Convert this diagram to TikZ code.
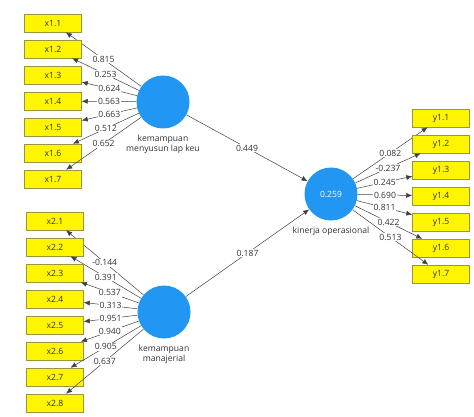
\documentclass[tikz,border=0pt]{standalone}
\usepackage{fontspec}
\setmainfont{Open Sans}
\usepackage{xcolor}
\usetikzlibrary{arrows.meta}
\usetikzlibrary{positioning}
\definecolor{lvblue}{RGB}{33,150,243}
\definecolor{mvyellow}{RGB}{255,245,0}
\definecolor{mvedge}{RGB}{150,150,60}

\begin{document}
\begin{tikzpicture}[
				x=1pt, y=-1pt,
				line width=0.5pt,
				font=\fontsize{8.6}{10}\selectfont,
				indicator/.style={draw=mvedge, fill=mvyellow, minimum width=57pt, minimum height=18pt, inner sep=0pt, text=black!80},
				construct/.style={circle, fill=lvblue, minimum size=53pt, inner sep=0pt, text=white},
				caption/.style={align=center, below=3pt of #1, text=black!80},
				arrow/.style={draw=black!75, -{Latex[length=6pt,width=5pt]}},
				value/.style={fill=white, inner sep=0.8pt, text=black!80},
			]
				\useasboundingbox (0,0) rectangle (474,417);
				% latent variables
				\node (lk) [construct] at (163,102) {};
				\node (mj) [construct] at (164,312) {};
				\node (ko) [construct] at (331,194) {0.259};
				\node (lklab) [caption=lk] {kemampuan\\menyusun lap keu};
				\node (mjlab) [caption=mj] {kemampuan\\manajerial};
				\node (kolab) [caption=ko] {kinerja operasional};
				
				% indicators
				\foreach \v [count=\i] in {0.815,0.253,0.624,0.563,0.663,0.512,0.652} {
					\node (x1\i) [indicator] at (53,{23+26*(\i-1)}) {x1.\i};
					\draw[arrow] (lk) -- node[value] {\v} (x1\i);
				}
				\foreach \v [count=\i] in {-0.144,0.391,0.537,0.313,0.951,0.940,0.905,0.637} {
					\node (x2\i) [indicator] at (55,{221+26*(\i-1)}) {x2.\i};
					\draw[arrow] (mj) -- node[value] {\v} (x2\i);
				}
				\foreach \v [count=\i] in {0.082,-0.237,0.245,0.690,0.811,0.422,0.513} {
					\node (y1\i) [indicator] at (441,{118+26*(\i-1)}) {y1.\i};
					\draw[arrow] (ko) -- node[value] {\v} (y1\i);
				}
				
				% paths
				\draw[arrow] (lk) -- node[value] {0.449} (ko);
				\draw[arrow] (mj) -- node[value] {0.187} (ko);
			\end{tikzpicture}
\end{document}
